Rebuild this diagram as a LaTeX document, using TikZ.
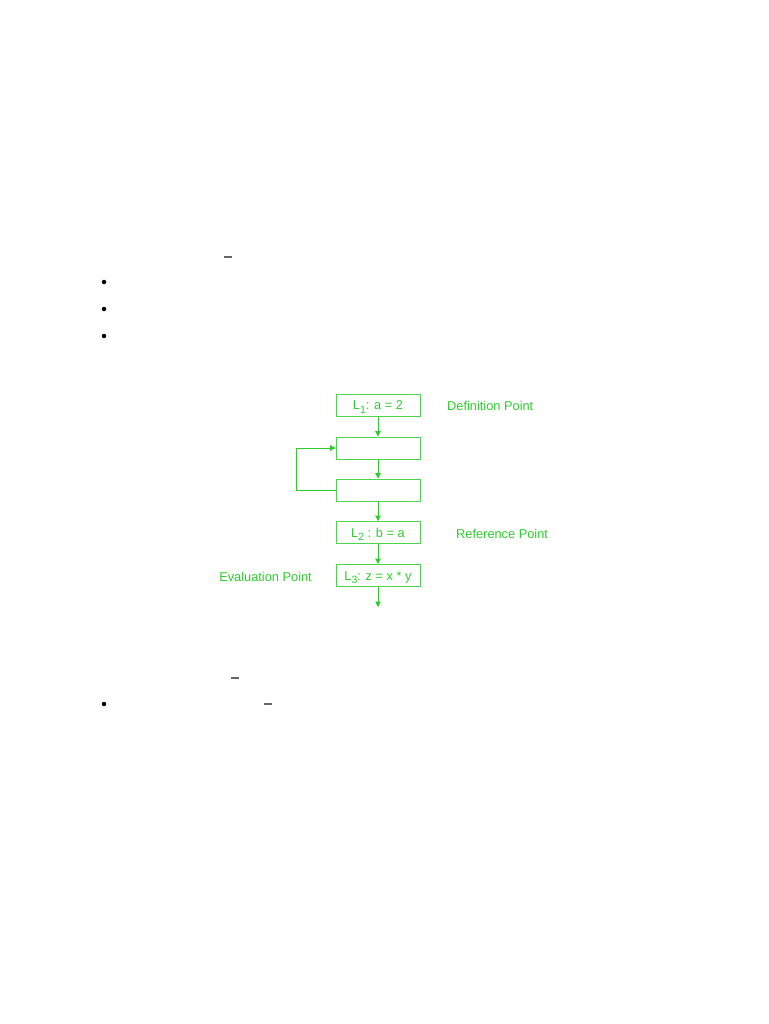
\documentclass[tikz,border=0pt]{standalone}
\usepackage{fontspec}
\setmainfont{Liberation Sans}
\usetikzlibrary{arrows.meta}
\definecolor{gfg}{RGB}{45,205,45}
\newcommand{\lsub}[1]{\raisebox{-0.28em}{\fontsize{10.5}{10.5}\selectfont #1}}
\begin{document}
\begin{tikzpicture}[x=1pt,y=-1pt,
  blk/.style={draw=gfg!85,line width=0.85pt,minimum width=84pt,minimum height=22pt,inner sep=0pt,
    text height=10pt,text depth=1pt,
    text=gfg,font=\fontsize{12.8}{14}\selectfont},
  lbl/.style={text=gfg,inner sep=0pt,font=\fontsize{12.8}{14}\selectfont},
  flow/.style={draw=gfg,line width=0.95pt,-{Triangle[length=5.5pt,width=5.5pt]}},
  dot/.style={circle,fill=black,inner sep=0pt,minimum size=4.5pt},
  dashmark/.style={draw=black!60,line width=1.5pt}]
\useasboundingbox (0,0) rectangle (768,1024);
% leftover page marks
\node[dot] (d1) at (104,282) {};
\node[dot] (d2) at (104,309) {};
\node[dot] (d3) at (104,336) {};
\node[dot] (d4) at (104,704) {};
\coordinate (m1a) at (224,257); \coordinate (m1b) at (232,257);
\coordinate (m2a) at (231,678); \coordinate (m2b) at (239,678);
\coordinate (m3a) at (264,704); \coordinate (m3b) at (272,704);
\draw[dashmark] (m1a) -- (m1b);
\draw[dashmark] (m2a) -- (m2b);
\draw[dashmark] (m3a) -- (m3b);
% flow diagram
\node[blk] (b1) at (378,405) {L\lsub{1}: a = 2};
\node[blk] (b2) at (378,448) {};
\node[blk] (b3) at (378,490) {};
\node[blk] (b4) at (378,532.5) {L\lsub{2} : b = a};
\node[blk] (b5) at (378,575.5) {L\lsub{3}: z = x * y};
\coordinate (lp) at (296,448);
\coordinate (endp) at (378,607);
\draw[flow] (b1) -- (b2);
\draw[flow] (b2) -- (b3);
\draw[flow] (b3) -- (b4);
\draw[flow] (b4) -- (b5);
\draw[flow] (b5) -- (endp);
\draw[flow] (b3.west) -| (lp) -- (b2.west);
\node[lbl,anchor=west] (t1) at (447,406) {Definition Point};
\node[lbl,anchor=west] (t2) at (456,534) {Reference Point};
\node[lbl,anchor=east] (t3) at (312,577) {Evaluation Point};
\end{tikzpicture}
\end{document}
